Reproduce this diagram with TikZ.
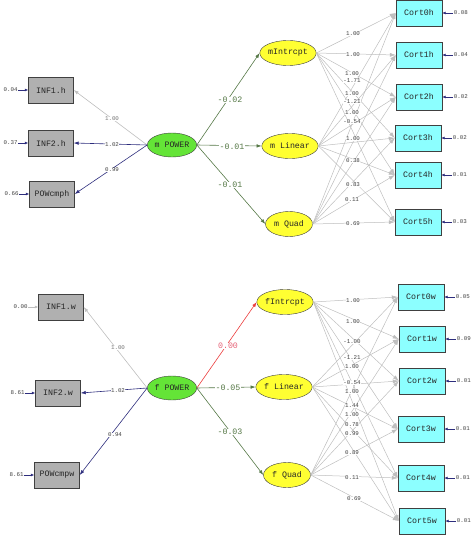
\documentclass[tikz,border=0pt]{standalone}
\usepackage{fontspec}
\newfontfamily\lmono{Liberation Mono}
\usetikzlibrary{arrows.meta,shapes.geometric,calc}
\definecolor{navyc}{RGB}{45,45,125}
\definecolor{greenfill}{RGB}{100,228,55}
\definecolor{yellowfill}{RGB}{255,255,50}
\definecolor{cyanfill}{RGB}{140,255,255}
\definecolor{grayfill}{RGB}{176,176,176}
\definecolor{pathgreen}{RGB}{85,120,70}
\definecolor{pathred}{RGB}{235,60,60}
\definecolor{lblred}{RGB}{230,100,120}
\definecolor{loadgray}{RGB}{190,190,190}
\begin{document}
\begin{tikzpicture}[x=1pt,y=-1pt,
  nodefont/.style={font=\lmono\fontsize{8.3}{9}\selectfont, text=black!85},
  obsbox/.style={draw=black!75, fill=grayfill, minimum width=45pt, minimum height=26pt, inner sep=0pt, nodefont},
  cortbox/.style={draw=black!75, fill=cyanfill, minimum width=46pt, minimum height=26pt, inner sep=0pt, nodefont},
  powell/.style={ellipse, draw=black!75, fill=greenfill, minimum width=45pt, minimum height=24pt, inner sep=0pt, nodefont},
  latell/.style={ellipse, draw=black!75, fill=yellowfill, minimum width=47pt, minimum height=25pt, inner sep=0pt, nodefont},
  load/.style={draw=loadgray, line width=0.5pt, -{Latex[length=6pt,width=4pt]}},
  lbl/.style={font=\lmono\fontsize{5.8}{6}\selectfont, fill=white, inner sep=0.5pt, text=black!75},
  plbl/.style={font=\lmono\fontsize{8.3}{9}\selectfont, fill=white, inner sep=0.5pt},
  gpath/.style={draw=pathgreen, line width=0.6pt, -{Latex[length=5pt,width=3.5pt]}},
  navyload/.style={draw=navyc, line width=0.6pt, -{Latex[length=5pt,width=3.5pt]}},
  grayload/.style={draw=loadgray, line width=0.6pt, -{Latex[length=5pt,width=3.5pt]}},
  errarrow/.style={draw=navyc, line width=0.9pt, -{Latex[length=3.5pt,width=3pt]}},
  errlbl/.style={font=\lmono\fontsize{5.8}{6}\selectfont, inner sep=0.5pt, text=black!75}
]
\useasboundingbox (0,0) rectangle (474,535);

% ---------------- top half ----------------
\node[obsbox] (INFh1) at (51,90) {INF1.h};
\node[obsbox] (INFh2) at (51,143) {INF2.h};
\node[obsbox] (POWh) at (52,194) {POWcmph};
\node[powell] (mP) at (172,145) {m POWER};
\node[latell] (mI) at (288,53) {mIntrcpt};
\node[latell] (mL) at (290,146) {m Linear};
\node[latell] (mQ) at (289,224) {m Quad};
\node[cortbox] (C0h) at (419,13) {Cort0h};
\node[cortbox] (C1h) at (419,55) {Cort1h};
\node[cortbox] (C2h) at (419,97) {Cort2h};
\node[cortbox] (C3h) at (418,138) {Cort3h};
\node[cortbox] (C4h) at (418,175) {Cort4h};
\node[cortbox] (C5h) at (418,222) {Cort5h};

\foreach \l in {mI,mL,mQ}{
  \foreach \c in {C0h,C1h,C2h,C3h,C4h,C5h}{
    \draw[load] (\l.east) -- (\c.west);
  }
}
\draw[grayload] (mP.west) -- (INFh1.east);
\draw[navyload] (mP.west) -- (INFh2.east);
\draw[navyload] (mP.west) -- (POWh.east);
\draw[gpath] (mP.east) -- (mI.west);
\draw[gpath] (mP.east) -- (mL.west);
\draw[gpath] (mP.east) -- (mQ.west);

\node[plbl, text=pathgreen] (t1) at (230,100) {-0.02};
\node[plbl, text=pathgreen] (t2) at (232,147) {-0.01};
\node[plbl, text=pathgreen] (t3) at (230,185) {-0.01};
\node[lbl, text=black!55] (t4) at (112,119) {1.00};
\node[lbl] (t5) at (112,145) {1.02};
\node[lbl] (t6) at (112,170) {0.99};

\node[lbl] (a1) at (352,81) {-1.71};
\node[lbl] (a2) at (352,102) {-1.21};
\node[lbl] (a3) at (352,122) {-0.54};
\node[lbl] (a4) at (353,161) {0.38};
\node[lbl] (a5) at (353,185) {0.83};
\node[lbl] (a6) at (352,200) {0.11};
\node[lbl] (a7) at (353,224) {0.69};
\node[lbl] (a8) at (353,34) {1.00};
\node[lbl] (a9) at (353,55) {1.00};
\node[lbl] (a10) at (352,74) {1.00};
\node[lbl] (a11) at (352,94) {1.00};
\node[lbl] (a12) at (352,113) {1.00};
\node[lbl] (a13) at (353,139) {1.00};

% error terms top
\foreach \c/\v in {C0h/0.08,C1h/0.04,C2h/0.02,C3h/0.02,C4h/0.01,C5h/0.03}{
  \coordinate (e\c) at ($(\c.east)+(11,0)$);
  \draw[errarrow] (e\c) -- (\c.east);
  \node[errlbl, anchor=west] (v\c) at (e\c) {\v};
}
\foreach \c/\v in {INFh1/0.04,INFh2/0.37,POWh/0.66}{
  \coordinate (e\c) at ($(\c.west)+(-10,0)$);
  \draw[errarrow] (e\c) -- (\c.west);
  \node[errlbl, anchor=east] (v\c) at (e\c) {\v};
}

% ---------------- bottom half ----------------
\node[obsbox] (INFw1) at (61,307) {INF1.w};
\node[obsbox] (INFw2) at (58,393) {INF2.w};
\node[obsbox] (POWw) at (57,475) {POWcmpw};
\node[powell] (fP) at (172,388) {f POWER};
\node[latell] (fI) at (285,302) {fIntrcpt};
\node[latell] (fL) at (284,387) {f Linear};
\node[latell] (fQ) at (287,475) {f Quad};
\node[cortbox] (C0w) at (421,297) {Cort0w};
\node[cortbox] (C1w) at (422,339) {Cort1w};
\node[cortbox] (C2w) at (422,381) {Cort2w};
\node[cortbox] (C3w) at (421,429) {Cort3w};
\node[cortbox] (C4w) at (421,478) {Cort4w};
\node[cortbox] (C5w) at (422,521) {Cort5w};

\foreach \l in {fI,fL,fQ}{
  \foreach \c in {C0w,C1w,C2w,C3w,C4w,C5w}{
    \draw[load] (\l.east) -- (\c.west);
  }
}
\draw[grayload] (fP.west) -- (INFw1.east);
\draw[navyload] (fP.west) -- (INFw2.east);
\draw[navyload] (fP.west) -- (POWw.east);
\draw[draw=pathred, line width=0.6pt, -{Latex[length=5pt,width=3.5pt]}] (fP.east) -- (fI.west);
\draw[gpath] (fP.east) -- (fL.west);
\draw[gpath] (fP.east) -- (fQ.west);

\node[plbl, text=lblred] (u1) at (228,346) {0.00};
\node[plbl, text=pathgreen] (u2) at (228,388) {-0.05};
\node[plbl, text=pathgreen] (u3) at (230,432) {-0.03};
\node[lbl, text=black!55] (u4) at (118,348) {1.00};
\node[lbl] (u5) at (118,391) {1.02};
\node[lbl] (u6) at (115,435) {0.94};

\node[lbl] (b1) at (352,358) {-1.21};
\node[lbl] (b2) at (352,425) {0.78};
\node[lbl] (b3) at (353,301) {1.00};
\node[lbl] (b4) at (353,322) {1.00};
\node[lbl] (b5) at (352,342) {-1.00};
\node[lbl] (b6) at (352,367) {1.00};
\node[lbl] (b7) at (352,383) {-0.54};
\node[lbl] (b8) at (352,392) {1.00};
\node[lbl] (b9) at (352,406) {1.44};
\node[lbl] (b10) at (352,415) {1.00};
\node[lbl] (b11) at (352,434) {0.99};
\node[lbl] (b12) at (352,453) {0.89};
\node[lbl] (b13) at (352,478) {0.11};
\node[lbl] (b14) at (354,499) {0.69};

\foreach \c/\v in {C0w/0.05,C1w/0.09,C2w/0.01,C3w/0.01,C4w/0.01,C5w/0.01}{
  \coordinate (e\c) at ($(\c.east)+(11,0)$);
  \draw[errarrow] (e\c) -- (\c.east);
  \node[errlbl, anchor=west] (v\c) at (e\c) {\v};
}
\coordinate (eINFw1) at ($(INFw1.west)+(-10,0)$);
\draw[draw=loadgray, line width=0.6pt, -{Latex[length=3.5pt,width=3pt]}] (eINFw1) -- (INFw1.west);
\node[errlbl, anchor=east] (vINFw1) at (eINFw1) {0.00};
\foreach \c/\v in {INFw2/8.61,POWw/8.61}{
  \coordinate (e\c) at ($(\c.west)+(-10,0)$);
  \draw[errarrow] (e\c) -- (\c.west);
  \node[errlbl, anchor=east] (v\c) at (e\c) {\v};
}
\end{tikzpicture}
\end{document}
